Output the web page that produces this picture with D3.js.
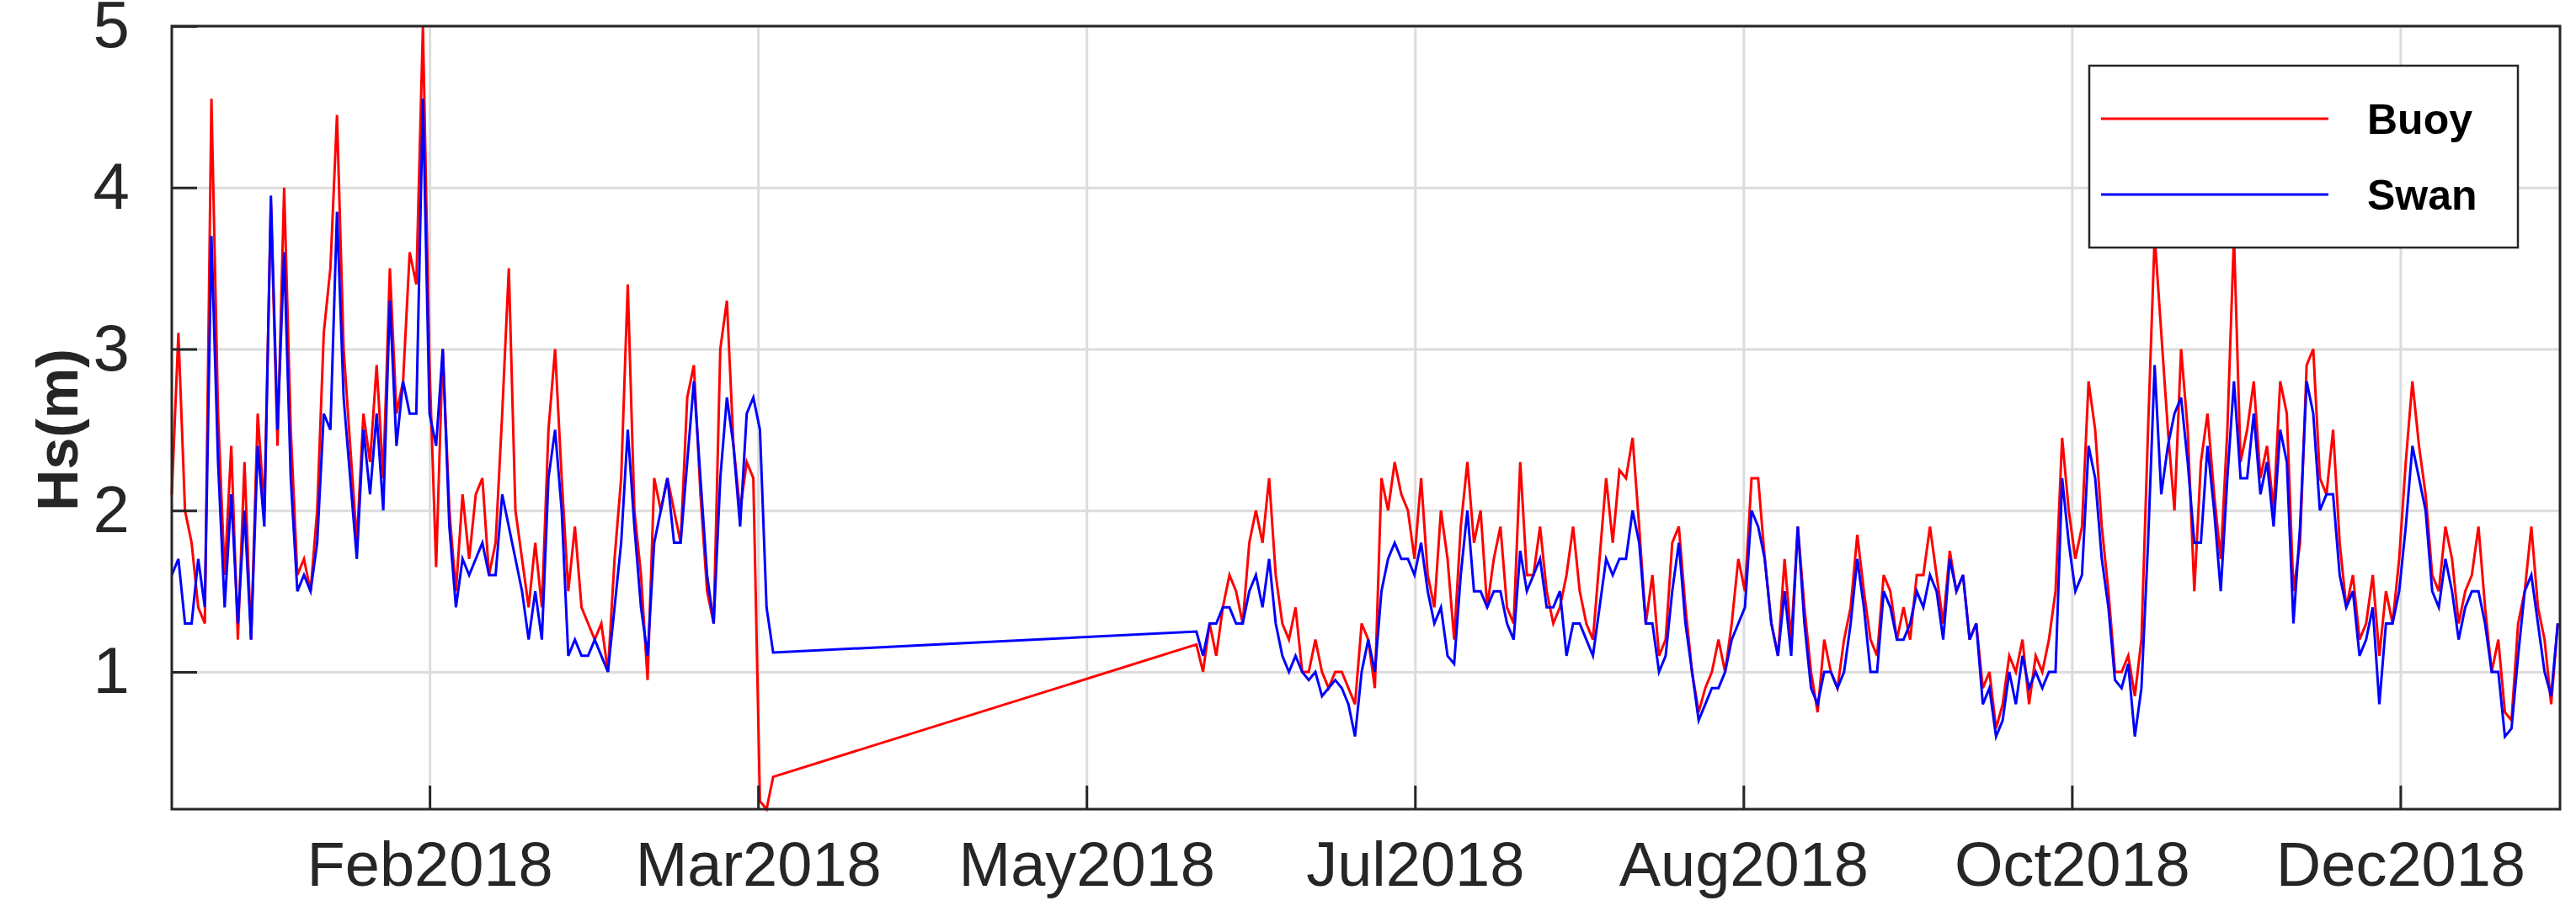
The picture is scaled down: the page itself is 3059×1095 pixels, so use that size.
<!DOCTYPE html>
<html>
<head>
<script src="https://d3js.org/d3.v7.min.js"></script>
<style>
  body { margin: 0; background: #fff; }
  text { font-family: "Liberation Sans", Arial, sans-serif; }
  .grid line { stroke: #dcdcdc; stroke-width: 3; }
</style>
</head>
<body>
<div id="chart"></div>
<script>
// days since 1 Jan 2018, regular sampling of ~1.01 day
const sampleStep = 1.01;
const seg1Start = 0;
const seg2Start = 156.6;

const buoy1 = [2.1,3.1,2.0,1.8,1.4,1.3,4.55,2.6,1.6,2.4,1.2,2.3,1.2,2.6,2.0,3.9,2.4,4.0,2.5,1.6,1.7,1.5,2.0,3.1,3.5,4.45,3.0,2.4,1.8,2.6,
  2.3,2.9,2.2,3.5,2.6,2.8,3.6,3.4,5.0,2.9,1.65,3.0,2.0,1.5,2.1,1.7,2.1,2.2,1.6,1.8,2.6,3.5,2.0,1.7,1.4,1.8,1.4,2.5,3.0,2.2,
  1.5,1.9,1.4,1.3,1.2,1.3,1.0,1.7,2.2,3.4,2.0,1.6,0.95,2.2,2.0,2.2,2.0,1.8,2.7,2.9,2.1,1.5,1.3,3.0,3.3,2.4,2.0,2.3,2.2,0.2,0.15,0.35];
const swan1 = [1.6,1.7,1.3,1.3,1.7,1.4,3.7,2.3,1.4,2.1,1.3,2.0,1.2,2.4,1.9,3.95,2.5,3.6,2.2,1.5,1.6,1.5,1.8,2.6,2.5,3.85,2.7,2.2,1.7,2.5,
  2.1,2.6,2.0,3.3,2.4,2.8,2.6,2.6,4.55,2.6,2.4,3.0,1.9,1.4,1.7,1.6,1.7,1.8,1.6,1.6,2.1,1.9,1.7,1.5,1.2,1.5,1.2,2.2,2.5,2.0,
  1.1,1.2,1.1,1.1,1.2,1.1,1.0,1.4,1.8,2.5,1.9,1.4,1.1,1.8,2.0,2.2,1.8,1.8,2.3,2.8,2.2,1.6,1.3,2.2,2.7,2.4,1.9,2.6,2.7,2.5,1.4,1.12];

const buoy2 = [1.17,1.0,1.3,1.1,1.4,1.6,1.5,1.3,1.8,2.0,1.8,2.2,1.6,1.3,1.2,1.4,1.0,1.0,1.2,1.0,0.9,1.0,1.0,0.9,0.8,1.3,1.2,0.9,2.2,2.0,
  2.3,2.1,2.0,1.7,2.2,1.6,1.4,2.0,1.7,1.2,1.9,2.3,1.8,2.0,1.4,1.7,1.9,1.4,1.3,2.3,1.6,1.6,1.9,1.5,1.3,1.4,1.6,1.9,1.5,1.3,
  1.2,1.7,2.2,1.8,2.25,2.2,2.45,1.9,1.3,1.6,1.1,1.2,1.8,1.9,1.4,1.0,0.75,0.9,1.0,1.2,1.0,1.3,1.7,1.5,2.2,2.2,1.7,1.3,1.1,1.7,
  1.2,1.9,1.4,1.0,0.75,1.2,1.0,0.9,1.2,1.4,1.85,1.5,1.2,1.1,1.6,1.5,1.2,1.4,1.2,1.6,1.6,1.9,1.6,1.3,1.75,1.5,1.6,1.2,1.3,0.9,
  1.0,0.65,0.8,1.1,1.0,1.2,0.8,1.1,1.0,1.2,1.5,2.45,2.0,1.7,1.9,2.8,2.5,1.9,1.5,1.0,1.0,1.1,0.85,1.2,2.5,3.7,3.1,2.5,2.0,3.0,
  2.5,1.5,2.3,2.6,2.1,1.7,2.5,3.7,2.3,2.5,2.8,2.2,2.4,2.0,2.8,2.6,1.5,1.8,2.9,3.0,2.2,2.1,2.5,1.8,1.4,1.6,1.2,1.3,1.6,1.1,
  1.5,1.3,1.7,2.3,2.8,2.4,2.1,1.6,1.5,1.9,1.7,1.3,1.5,1.6,1.9,1.4,1.0,1.2,0.75,0.7,1.3,1.5,1.9,1.4,1.2,0.8,1.3];
const swan2 = [1.25,1.1,1.3,1.3,1.4,1.4,1.3,1.3,1.5,1.6,1.4,1.7,1.3,1.1,1.0,1.1,1.0,0.95,1.0,0.85,0.9,0.95,0.9,0.8,0.6,1.0,1.2,1.0,1.5,1.7,
  1.8,1.7,1.7,1.6,1.8,1.5,1.3,1.4,1.1,1.05,1.6,2.0,1.5,1.5,1.4,1.5,1.5,1.3,1.2,1.75,1.5,1.6,1.7,1.4,1.4,1.5,1.1,1.3,1.3,1.2,
  1.1,1.4,1.7,1.6,1.7,1.7,2.0,1.8,1.3,1.3,1.0,1.1,1.5,1.8,1.3,1.0,0.7,0.8,0.9,0.9,1.0,1.2,1.3,1.4,2.0,1.9,1.7,1.3,1.1,1.5,
  1.1,1.9,1.3,0.9,0.8,1.0,1.0,0.9,1.0,1.3,1.7,1.4,1.0,1.0,1.5,1.4,1.2,1.2,1.3,1.5,1.4,1.6,1.5,1.2,1.7,1.5,1.6,1.2,1.3,0.8,
  0.9,0.6,0.7,1.0,0.8,1.1,0.9,1.0,0.9,1.0,1.0,2.2,1.8,1.5,1.6,2.4,2.2,1.7,1.4,0.95,0.9,1.05,0.6,0.9,1.8,2.9,2.1,2.4,2.6,2.7,
  2.3,1.8,1.8,2.4,2.0,1.5,2.2,2.8,2.2,2.2,2.6,2.1,2.3,1.9,2.5,2.3,1.3,1.9,2.8,2.6,2.0,2.1,2.1,1.6,1.4,1.5,1.1,1.2,1.4,0.8,
  1.3,1.3,1.5,1.9,2.4,2.2,2.0,1.5,1.4,1.7,1.5,1.2,1.4,1.5,1.5,1.3,1.0,1.0,0.6,0.65,1.1,1.5,1.6,1.3,1.0,0.85,1.3];

const tickDays = [39.4, 89.6, 139.8, 190, 240.2, 290.4, 340.6];
const tickLabels = ['Feb2018','Mar2018','May2018','Jul2018','Aug2018','Oct2018','Dec2018'];
const yTicks = [1, 2, 3, 4, 5];

const width = 3059, height = 1095;
const margin = { top: 31, right: 19, bottom: 134, left: 204 };
const w = width - margin.left - margin.right;
const h = height - margin.top - margin.bottom;

const svg = d3.select('#chart').append('svg').attr('width', width).attr('height', height);
const g = svg.append('g').attr('transform', `translate(${margin.left},${margin.top})`);

const x = d3.scaleLinear().domain([0, 365]).range([0, w]);
const y = d3.scaleLinear().domain([0.15, 5]).range([h, 0]);

function toPoints(start, vals) { return vals.map((v, i) => [start + i * sampleStep, v]); }
const buoyPts = toPoints(seg1Start, buoy1).concat(toPoints(seg2Start, buoy2));
const swanPts = toPoints(seg1Start, swan1).concat(toPoints(seg2Start, swan2));

g.append('g').attr('class', 'grid')
  .call(d3.axisBottom(x).tickValues(tickDays).tickSize(h).tickFormat(''))
  .call(s => s.select('.domain').remove());
g.append('g').attr('class', 'grid')
  .call(d3.axisLeft(y).tickValues(yTicks).tickSize(-w).tickFormat(''))
  .call(s => s.select('.domain').remove());

const line = d3.line().x(d => x(d[0])).y(d => y(d[1]));
g.append('path').datum(buoyPts).attr('d', line).attr('fill', 'none').attr('stroke', '#ff0000').attr('stroke-width', 3);
g.append('path').datum(swanPts).attr('d', line).attr('fill', 'none').attr('stroke', '#0000ff').attr('stroke-width', 3);

// axes box
g.append('rect').attr('width', w).attr('height', h).attr('fill', 'none').attr('stroke', '#262626').attr('stroke-width', 3);

const xAxis = g.append('g').attr('transform', `translate(0,${h})`)
  .call(d3.axisBottom(x).tickValues(tickDays).tickFormat((d, i) => tickLabels[i]).tickSizeInner(-28).tickSizeOuter(0).tickPadding(38));
xAxis.select('.domain').remove();
xAxis.selectAll('line').attr('stroke', '#262626').attr('stroke-width', 3);
xAxis.selectAll('text').attr('font-size', 74).attr('fill', '#262626');

const yAxis = g.append('g')
  .call(d3.axisLeft(y).tickValues(yTicks).tickFormat(d3.format('d')).tickSizeInner(-30).tickSizeOuter(0).tickPadding(50));
yAxis.select('.domain').remove();
yAxis.selectAll('line').attr('stroke', '#262626').attr('stroke-width', 3);
yAxis.selectAll('text').attr('font-size', 78).attr('fill', '#262626');

svg.append('text').attr('transform', `translate(68,${margin.top + y(2.5)}) rotate(-90)`)
  .attr('text-anchor', 'middle').attr('dy', '0.35em').attr('font-size', 68).attr('font-weight', 'bold').attr('fill', '#262626').text('Hs(m)');

// legend
const lg = svg.append('g').attr('transform', 'translate(2481,78)');
lg.append('rect').attr('width', 509).attr('height', 216).attr('fill', '#fff').attr('stroke', '#262626').attr('stroke-width', 2.5);
const items = [{ name: 'Buoy', color: '#ff0000' }, { name: 'Swan', color: '#0000ff' }];
items.forEach((it, i) => {
  const yy = 63 + i * 90;
  lg.append('line').attr('x1', 14).attr('x2', 284).attr('y1', yy).attr('y2', yy).attr('stroke', it.color).attr('stroke-width', 3);
  lg.append('text').attr('x', 330).attr('y', yy).attr('dy', '0.35em').attr('font-size', 50).attr('font-weight', 'bold').attr('fill', '#000').text(it.name);
});
</script>
</body>
</html>
